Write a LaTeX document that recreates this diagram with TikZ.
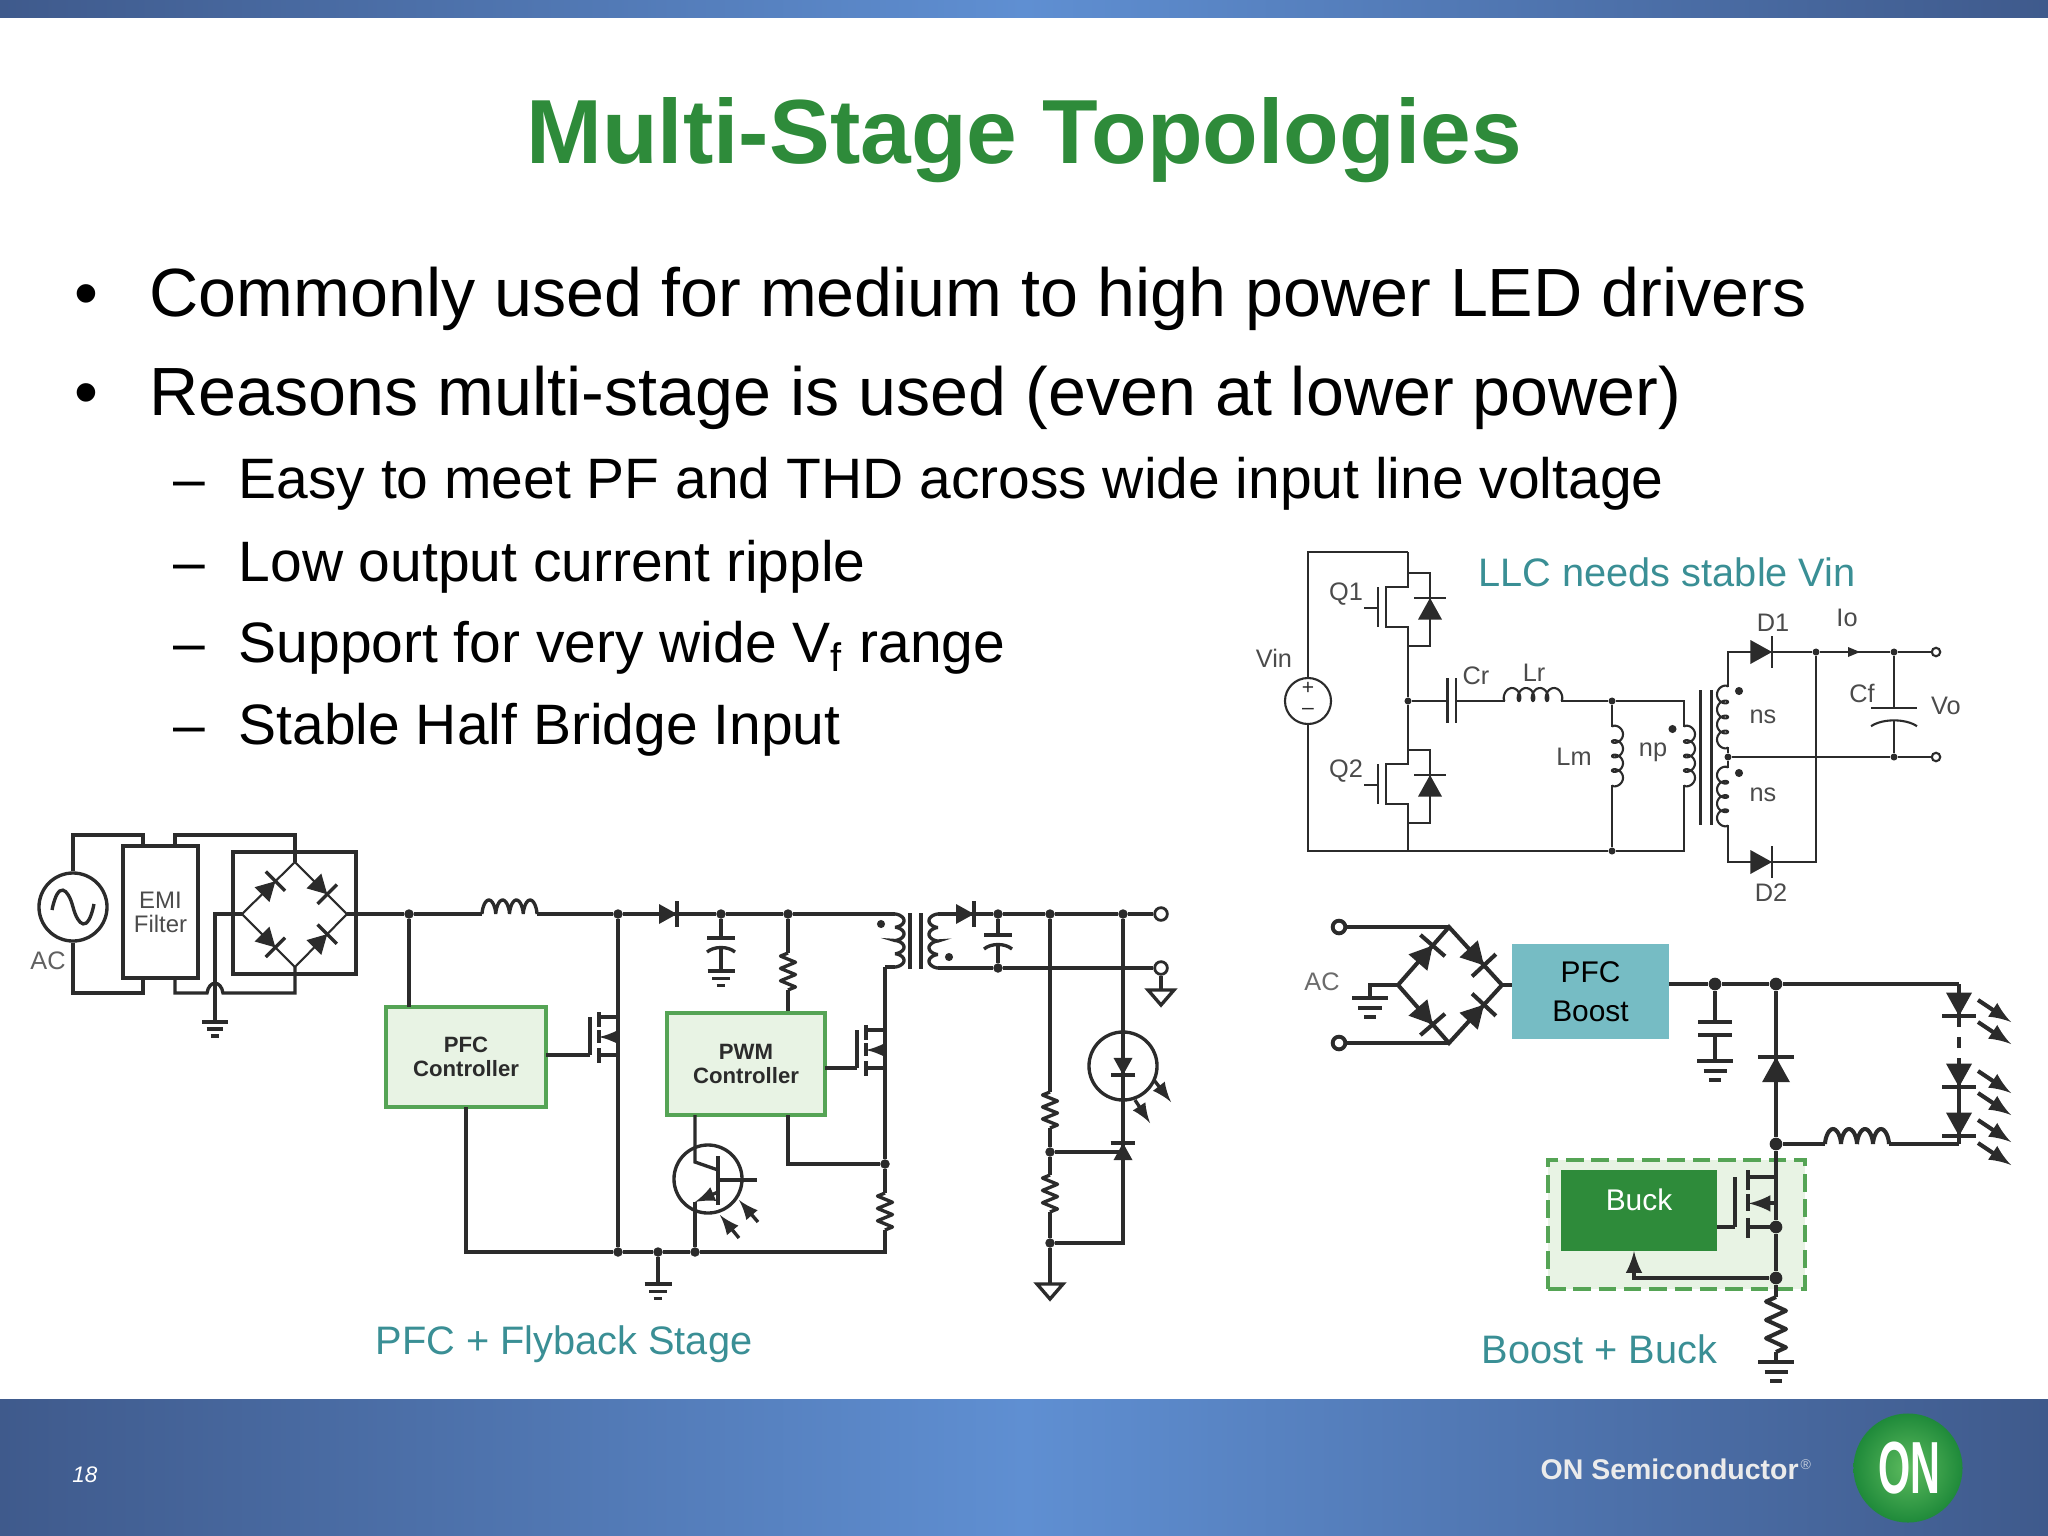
\documentclass[tikz,border=0pt]{standalone}
\usepackage{fontspec}
\setmainfont{Liberation Sans}
\usetikzlibrary{arrows}
\usetikzlibrary{calc}
\usetikzlibrary{shapes}
\definecolor{wireColor}{HTML}{2B2B2B}
\definecolor{titleColor}{HTML}{2E8B3A}
\definecolor{captionColor}{HTML}{3A8F95}
\definecolor{bandDark}{HTML}{3F5A8C}
\definecolor{bandLight}{HTML}{5F8FD2}
\definecolor{boxFill}{HTML}{E8F3E4}
\definecolor{boxEdge}{HTML}{55A455}
\definecolor{boostFill}{HTML}{76BCC4}
\definecolor{logoInner}{HTML}{5DBB5E}
\definecolor{logoOuter}{HTML}{1F8A3A}
\tikzset{
	pics/diode/.style={code={
		\fill[wireColor] (-1.8,-1) -- (-1.8,1) -- (0,0) -- cycle;
		\draw[wireStyle] (0,-1.3) -- (0,1.3);
	}},
	pics/coil/.style 2 args={code={
		\draw[wireStyle] plot[domain=0:#1, samples=90, smooth, variable=\t] ({\t-#2*sin(360*\t)},{-(1-cos(360*\t))/2});
	}},
	pics/resistor/.style={code={
		\draw[wireStyle, line join=round] (0,0) -- (.083,1) -- (.25,-1) -- (.417,1) -- (.583,-1) -- (.75,1) -- (.917,-1) -- (1,0);
	}},
	pics/earth/.style={code={
		\draw[wireStyle] (-.5,0) -- (.5,0);
		\draw[wireStyle] (-.32,.27) -- (.32,.27);
		\draw[wireStyle] (-.16,.54) -- (.16,.54);
	}},
	pics/signalgnd/.style={code={
		\draw[wireStyle] (-13,0) -- (13,0) -- (0,15) -- cycle;
	}},
	pics/curvedcap/.style={code={
		\draw[wireStyle] (-14,0) -- (14,0);
		\draw[wireStyle] (-14,14) .. controls (-7,8) and (7,8) .. (14,14);
	}},
	pics/mosfet/.style={code={
		\draw[wireStyle] (-28,0) -- (-28,38);
		\draw[wireStyle] (-19,-5) -- (-19,10);
		\draw[wireStyle] (-19,13) -- (-19,26);
		\draw[wireStyle] (-19,31) -- (-19,46);
		\draw[wireStyle] (-19,0) -- (0,0);
		\draw[wireStyle, -latex] (0,20) -- (-19,20);
		\draw[wireStyle] (-19,38) -- (0,38);
	}}
}
\begin{document}
\begin{tikzpicture}[x=0.01cm, y=-0.01cm, >=latex]
	\tikzstyle{wireStyle}=[draw=wireColor, line width=0.95pt]
	\tikzstyle{thinStyle}=[draw=wireColor, line width=0.6pt]
	\tikzstyle{dotStyle}=[shape=circle, minimum size=3.6pt, inner sep=0pt, fill=wireColor]
	\tikzstyle{smallDotStyle}=[shape=circle, minimum size=2.7pt, inner sep=0pt, fill=wireColor]
	\tikzstyle{tinyDotStyle}=[shape=circle, minimum size=2pt, inner sep=0pt, fill=wireColor]
	\tikzstyle{termStyle}=[shape=circle, minimum size=3.6pt, inner sep=0pt, draw=wireColor, line width=0.8pt, fill=white]
	\tikzstyle{titleStyle}=[anchor=base, text=titleColor, font=\fontsize{25.9pt}{30pt}\selectfont\bfseries]
	\tikzstyle{bulletStyle}=[anchor=base west, inner sep=0pt, text=black, font=\fontsize{19.4pt}{23pt}\selectfont]
	\tikzstyle{subStyle}=[anchor=base west, inner sep=0pt, text=black, font=\fontsize{16.2pt}{19pt}\selectfont]
	\tikzstyle{captionStyle}=[anchor=base west, inner sep=0pt, text=captionColor, font=\fontsize{11.3pt}{13pt}\selectfont]
	\tikzstyle{labelStyle}=[inner sep=0pt, text=wireColor!85!white, font=\fontsize{7.2pt}{8pt}\selectfont]
	\tikzstyle{ctrlStyle}=[draw=boxEdge, line width=0.9pt, fill=boxFill, inner sep=0pt, align=center, text=wireColor, font=\fontsize{6.3pt}{6.8pt}\selectfont\bfseries]
	\useasboundingbox (0,0) rectangle (2048,1536);
	\fill[white] (0,0) rectangle (2048,1536);
	\shade[left color=bandDark, right color=bandDark, middle color=bandLight] (0,0) rectangle (2048,17);
	\shade[left color=bandDark, right color=bandDark, middle color=bandLight] (0,1399) rectangle (2048,1536);

	\node[titleStyle] (title) at (1024,163) {Multi-Stage Topologies};
	\node[bulletStyle] (m1) at (74,316) {•};
	\node[bulletStyle] (t1) at (149,316) {Commonly used for medium to high power LED drivers};
	\node[bulletStyle] (m2) at (74,415) {•};
	\node[bulletStyle] (t2) at (149,415) {Reasons multi-stage is used (even at lower power)};
	\node[subStyle] (m3) at (173,498) {–};
	\node[subStyle] (t3) at (238,498) {Easy to meet PF and THD across wide input line voltage};
	\node[subStyle] (m4) at (173,581) {–};
	\node[subStyle] (t4) at (238,581) {Low output current ripple};
	\node[subStyle] (m5) at (173,662) {–};
	\node[subStyle] (t5) at (238,662) {Support for very wide V\textsubscript{f} range};
	\node[subStyle] (m6) at (173,744) {–};
	\node[subStyle] (t6) at (238,744) {Stable Half Bridge Input};
	\node[captionStyle] (capA) at (375,1354) {PFC + Flyback Stage};
	\node[captionStyle] (capB) at (1478,586) {LLC needs stable Vin};
	\node[captionStyle] (capC) at (1481,1363) {Boost + Buck};

	\node[anchor=base, text=white, font=\fontsize{6.4pt}{8pt}\selectfont\itshape] (page) at (85,1482) {18};
	\node[anchor=base west, inner sep=0pt, text=white!92!black, font=\fontsize{8.1pt}{9pt}\selectfont\bfseries] (logoText) at (1540,1479) {ON Semiconductor};
	\node[anchor=base west, inner sep=0pt, text=white!70!bandDark, font=\fontsize{4pt}{5pt}\selectfont] (logoMark) at (1800,1469) {\textregistered};
	\node[shape=circle, minimum size=109*0.2845pt, inner sep=0pt, inner color=logoInner, outer color=logoOuter] (logoBall) at (1908,1468) {};
	\node[inner sep=0pt, text=white, font=\fontsize{21pt}{22pt}\selectfont\bfseries] (logoOn) at (1909,1468) {\scalebox{0.56}[1]{ON}};

	% PFC + flyback
	\node[shape=circle, minimum size=68*0.2845pt, inner sep=0pt, draw=wireColor, line width=0.95pt] (acA) at (73,907) {};
	\draw[wireColor, line width=0.95pt] (52,910) .. controls (58,880) and (68,888) .. (73,907) .. controls (78,926) and (88,934) .. (94,904);
	\node[labelStyle, text=wireColor!75!white] (acLabelA) at (48,961) {AC};
	\node[draw=wireColor, line width=0.95pt, minimum width=75*0.2845pt, minimum height=132*0.2845pt, inner sep=0pt, align=center, text=wireColor!85!white, font=\fontsize{6.8pt}{6.8pt}\selectfont] (emi) at (160.5,912) {EMI\\Filter};
	\node[draw=wireColor, line width=0.95pt, minimum width=123*0.2845pt, minimum height=122*0.2845pt, inner sep=0pt] (bridgeBox) at (294.5,913) {};
	\coordinate (a0) at (295,862);
	\coordinate (a1) at (347,914);
	\coordinate (a2) at (295,967);
	\coordinate (a3) at (242,914);
	\draw[thinStyle] (a3) -- (a0) -- (a1) -- (a2) -- cycle;
	\pic[rotate=45, scale=10.5] at ($(a3)!0.63!(a0)$) {diode};
	\pic[rotate=-45, scale=10.5] at ($(a0)!0.62!(a1)$) {diode};
	\pic[rotate=-45, scale=10.5] at ($(a3)!0.63!(a2)$) {diode};
	\pic[rotate=45, scale=10.5] at ($(a2)!0.62!(a1)$) {diode};
	\coordinate (a4) at (73,835);
	\coordinate (a5) at (143,835);
	\coordinate (a6) at (143,846);
	\coordinate (a7) at (175,846);
	\coordinate (a8) at (175,835);
	\coordinate (a9) at (295,835);
	\coordinate (a10) at (73,993);
	\coordinate (a11) at (143,993);
	\coordinate (a12) at (143,978);
	\coordinate (a13) at (175,978);
	\coordinate (a14) at (175,993);
	\coordinate (a15) at (207,993);
	\coordinate (a16) at (223,993);
	\coordinate (a17) at (295,993);
	\coordinate (a18) at (215,914);
	\coordinate (a19) at (215,1022);
	\draw[wireStyle] (acA) -- (a4) -- (a5) -- (a6);
	\draw[wireStyle] (a7) -- (a8) -- (a9) -- (a0);
	\draw[wireStyle] (acA) -- (a10) -- (a11) -- (a12);
	\draw[wireStyle] (a13) -- (a14) -- (a15) .. controls +(2,-13) and +(-2,-13) .. (a16) -- (a17) -- (a2);
	\draw[wireStyle] (a3) -- (a18) -- (a19);
	\pic[scale=26] at (a19) {earth};

	\node[smallDotStyle] (a20) at (409,914) {};
	\coordinate (a21) at (482,914);
	\coordinate (a22) at (537,914);
	\node[smallDotStyle] (a23) at (618,914) {};
	\node[smallDotStyle] (a24) at (618,1252) {};
	\node[ctrlStyle, minimum width=160*0.2845pt, minimum height=100*0.2845pt] (pfc) at (466,1057) {PFC\\Controller};
	\coordinate (a25) at (409,1007);
	\coordinate (a26) at (466,1252);
	\coordinate (a27) at (590,1055);
	\coordinate (a28) at (546,1055);
	\coordinate (a29) at (466,1107);
	\draw[wireStyle] (a1) -- (a20) -- (a21);
	\draw[wireStyle] (a22) -- (a23);
	\pic[xscale=13.75, yscale=14] at (a21) {coil={4}{0.16}};
	\draw[wireStyle] (a20) -- (a25);
	\draw[wireStyle] (a29) -- (a26) -- (a24);
	\draw[wireStyle] (a23) -- (a24);
	\draw[wireStyle] (a28) -- (a27);
	\pic at (618,1017) {mosfet};

	\coordinate (a30) at (677,914);
	\node[smallDotStyle] (a31) at (721,914) {};
	\node[smallDotStyle] (a32) at (788,914) {};
	\coordinate (a33) at (895,914);
	\draw[wireStyle] (a23) -- (a30) -- (a31) -- (a32) -- (a33);
	\pic[scale=10] at (a30) {diode};
	\coordinate (a34) at (721,938);
	\coordinate (a34b) at (721,947);
	\coordinate (a35) at (721,971);
	\draw[wireStyle] (a31) -- (a34);
	\draw[wireStyle] (a34b) -- (a35);
	\pic at (a34) {curvedcap};
	\pic[scale=27] at (a35) {earth};
	\coordinate (a36) at (788,953);
	\coordinate (a37) at (788,990);
	\coordinate (a38) at (788,1013);
	\draw[wireStyle] (a32) -- (a36);
	\draw[wireStyle] (a37) -- (a38);
	\pic[rotate=-90, xscale=37, yscale=7.5] at (a36) {resistor};
	\node[ctrlStyle, minimum width=158*0.2845pt, minimum height=102*0.2845pt] (pwm) at (746,1064) {PWM\\Controller};

	\coordinate (a39) at (885,967);
	\coordinate (a40) at (895,967);
	\draw[wireStyle] (a39) -- (a40);
	\pic[rotate=-90, xscale=13.25, yscale=9] at (a33) {coil={4}{0.16}};
	\coordinate (a41) at (910,913);
	\coordinate (a42) at (910,969);
	\coordinate (a43) at (921,913);
	\coordinate (a44) at (921,969);
	\draw[wireStyle] (a41) -- (a42);
	\draw[wireStyle] (a43) -- (a44);
	\pic[rotate=-90, xscale=13.5, yscale=-9] at (938,914) {coil={4}{0.16}};
	\node[shape=circle, minimum size=2.3pt, inner sep=0pt, fill=wireColor] (a45) at (881,924) {};
	\node[shape=circle, minimum size=2.3pt, inner sep=0pt, fill=wireColor] (a46) at (949,957) {};
	\coordinate (a47) at (938,914);
	\coordinate (a48) at (974,914);
	\node[smallDotStyle] (a49) at (998,914) {};
	\node[smallDotStyle] (a50) at (1050,914) {};
	\node[smallDotStyle] (a51) at (1123,914) {};
	\node[termStyle] (a52) at (1161,914) {};
	\draw[wireStyle] (a47) -- (a48) -- (a49) -- (a50) -- (a51) -- (a52);
	\pic[scale=10] at (a48) {diode};
	\coordinate (a53) at (938,968);
	\node[smallDotStyle] (a54) at (998,968) {};
	\node[termStyle] (a55) at (1161,968) {};
	\draw[wireStyle] (a53) -- (a54) -- (a55);
	\coordinate (a56) at (998,935);
	\coordinate (a56b) at (998,945);
	\draw[wireStyle] (a49) -- (a56);
	\draw[wireStyle] (a56b) -- (a54);
	\pic at (a56) {curvedcap};
	\coordinate (a57) at (1161,990);
	\draw[wireStyle] (a55) -- (a57);
	\pic at (a57) {signalgnd};

	\coordinate (a58) at (885,1030);
	\coordinate (a59) at (885,1193);
	\coordinate (a60) at (885,1230);
	\node[smallDotStyle] (a61) at (885,1164) {};
	\coordinate (a62) at (885,1252);
	\node[smallDotStyle] (a63) at (695,1252) {};
	\node[smallDotStyle] (a64) at (658,1252) {};
	\coordinate (a65) at (658,1284);
	\draw[wireStyle] (a39) -- (a58);
	\draw[wireStyle] (a58) -- (a61) -- (a59);
	\draw[wireStyle] (a60) -- (a62) -- (a63) -- (a64) -- (a24);
	\draw[wireStyle] (a64) -- (a65);
	\pic[scale=27] at (a65) {earth};
	\pic[rotate=-90, xscale=37, yscale=7.5] at (a59) {resistor};
	\pic at (a58) {mosfet};
	\coordinate (a66) at (825,1068);
	\coordinate (a67) at (857,1068);
	\draw[wireStyle] (a66) -- (a67);
	\coordinate (a68) at (788,1115);
	\coordinate (a69) at (788,1164);
	\draw[wireStyle] (a68) -- (a69) -- (a61);

	\node[shape=circle, minimum size=68*0.2845pt, inner sep=0pt, draw=wireColor, line width=0.95pt] (photo) at (708,1179) {};
	\coordinate (a70) at (695,1115);
	\coordinate (a71) at (695,1162);
	\coordinate (a72) at (718,1170);
	\coordinate (a73) at (718,1156);
	\coordinate (a74) at (718,1205);
	\coordinate (a75) at (718,1180);
	\coordinate (a76) at (757,1180);
	\coordinate (a77) at (718,1192);
	\coordinate (a78) at (695,1202);
	\draw[wireStyle] (a70) -- (a71) -- (a72);
	\draw[wireStyle] (a73) -- (a74);
	\draw[wireStyle] (a75) -- (a76);
	\draw[wireStyle, ->] (a77) -- (a78);
	\draw[wireStyle] (a78) -- (a63);
	\coordinate (a79) at (758,1222);
	\coordinate (a80) at (739,1200);
	\coordinate (a81) at (739,1238);
	\coordinate (a82) at (720,1215);
	\draw[wireStyle, ->] (a79) -- (a80);
	\draw[wireStyle, ->] (a81) -- (a82);

	\coordinate (a83) at (1050,1092);
	\coordinate (a84) at (1050,1128);
	\node[smallDotStyle] (a85) at (1050,1152) {};
	\coordinate (a86) at (1050,1175);
	\coordinate (a87) at (1050,1212);
	\node[smallDotStyle] (a88) at (1050,1243) {};
	\coordinate (a89) at (1050,1284);
	\draw[wireStyle] (a50) -- (a83);
	\draw[wireStyle] (a84) -- (a85) -- (a86);
	\draw[wireStyle] (a87) -- (a88) -- (a89);
	\pic[rotate=-90, xscale=36, yscale=7.5] at (a83) {resistor};
	\pic[rotate=-90, xscale=37, yscale=7.5] at (a86) {resistor};
	\pic at (a89) {signalgnd};
	\node[shape=circle, minimum size=68*0.2845pt, inner sep=0pt, draw=wireColor, line width=0.95pt] (led) at (1123,1066) {};
	\coordinate (a90) at (1123,1075);
	\coordinate (a91) at (1123,1143);
	\coordinate (a92) at (1123,1243);
	\coordinate (a93) at (1123,1152);
	\draw[wireStyle] (a51) -- (a90) -- (a91) -- (a92) -- (a88);
	\draw[wireStyle] (a85) -- (a93);
	\pic[rotate=-90, scale=9.5] at (a90) {diode};
	\pic[rotate=90, scale=9.5] at (a91) {diode};
	\coordinate (a94) at (1154,1080);
	\coordinate (a95) at (1171,1102);
	\coordinate (a96) at (1135,1100);
	\coordinate (a97) at (1150,1123);
	\draw[wireStyle, ->] (a94) -- (a95);
	\draw[wireStyle, ->] (a96) -- (a97);

	% LLC
	\begin{scope}[wireStyle/.style={draw=wireColor, line width=0.6pt}]
	\coordinate (b0) at (1308,552);
	\coordinate (b1) at (1408,552);
	\coordinate (b2) at (1308,851);
	\node[shape=circle, minimum size=46*0.2845pt, inner sep=0pt, draw=wireColor, line width=0.6pt] (vin) at (1308,701) {};
	\node[inner sep=0pt, font=\fontsize{6pt}{7pt}\selectfont, text=wireColor] (vinPlus) at (1308,688) {+};
	\node[inner sep=0pt, font=\fontsize{6pt}{7pt}\selectfont, text=wireColor] (vinMinus) at (1308,711) {–};
	\node[tinyDotStyle] (b3) at (1408,701) {};
	\coordinate (b4) at (1408,851);
	\draw[thinStyle] (vin) -- (b0) -- (b1);
	\draw[thinStyle] (vin) -- (b2) -- (b4);
	\coordinate (b5) at (1408,573);
	\coordinate (b6) at (1408,587);
	\coordinate (b7) at (1386,587);
	\coordinate (b8) at (1386,627);
	\coordinate (b9) at (1408,627);
	\coordinate (b10) at (1408,646);
	\coordinate (b11) at (1430,573);
	\coordinate (b12) at (1430,646);
	\coordinate (b13) at (1378,587);
	\coordinate (b14) at (1378,627);
	\coordinate (b15) at (1364,608);
	\coordinate (b16) at (1378,608);
	\coordinate (b17) at (1430,598);
	\draw[thinStyle] (b1) -- (b5) -- (b6) -- (b7) -- (b8) -- (b9) -- (b10) -- (b3);
	\draw[thinStyle] (b5) -- (b11) -- (b12) -- (b10);
	\draw[thinStyle] (b13) -- (b14);
	\draw[thinStyle] (b15) -- (b16);
	\pic[rotate=90, scale=12] at (b17) {diode};
	\coordinate (b18) at (1408,750);
	\coordinate (b19) at (1408,764);
	\coordinate (b20) at (1386,764);
	\coordinate (b21) at (1386,804);
	\coordinate (b22) at (1408,804);
	\coordinate (b23) at (1408,823);
	\coordinate (b24) at (1430,750);
	\coordinate (b25) at (1430,823);
	\coordinate (b26) at (1378,764);
	\coordinate (b27) at (1378,804);
	\coordinate (b28) at (1364,785);
	\coordinate (b29) at (1378,785);
	\coordinate (b30) at (1430,775);
	\draw[thinStyle] (b3) -- (b18) -- (b19) -- (b20) -- (b21) -- (b22) -- (b23) -- (b4);
	\draw[thinStyle] (b18) -- (b24) -- (b25) -- (b23);
	\draw[thinStyle] (b26) -- (b27);
	\draw[thinStyle] (b28) -- (b29);
	\pic[rotate=90, scale=12] at (b30) {diode};
	\coordinate (b31) at (1447.5,701);
	\coordinate (b32) at (1456,701);
	\coordinate (b33) at (1447.5,678);
	\coordinate (b34) at (1447.5,723);
	\coordinate (b35) at (1456,678);
	\coordinate (b36) at (1456,723);
	\coordinate (b37) at (1505,701);
	\coordinate (b38) at (1561,701);
	\node[tinyDotStyle] (b39) at (1612,701) {};
	\coordinate (b40) at (1684,701);
	\coordinate (b41) at (1684,727);
	\coordinate (b42) at (1684,785);
	\coordinate (b43) at (1684,851);
	\node[tinyDotStyle] (b44) at (1612,851) {};
	\coordinate (b45) at (1612,727);
	\coordinate (b46) at (1612,785);
	\draw[thinStyle] (b3) -- (b31);
	\draw[thinStyle] (b33) -- (b34);
	\draw[thinStyle] (b35) -- (b36);
	\draw[thinStyle] (b32) -- (b37);
	\draw[thinStyle] (b38) -- (b39) -- (b40) -- (b41);
	\draw[thinStyle] (b42) -- (b43) -- (b44) -- (b4);
	\draw[thinStyle] (b39) -- (b45);
	\draw[thinStyle] (b46) -- (b44);
	\pic[xscale=14, yscale=13] at (b37) {coil={4}{0.3}};
	\pic[rotate=-90, xscale=14.5, yscale=11] at (b45) {coil={4}{0.3}};
	\pic[rotate=-90, xscale=14.5, yscale=11] at (b41) {coil={4}{0.3}};
	\coordinate (b47) at (1700.5,690);
	\coordinate (b48) at (1700.5,825);
	\coordinate (b49) at (1711.5,690);
	\coordinate (b50) at (1711.5,825);
	\draw[thinStyle] (b47) -- (b48);
	\draw[thinStyle] (b49) -- (b50);
	\coordinate (b51) at (1728,652);
	\coordinate (b52) at (1728,687);
	\node[tinyDotStyle] (b53) at (1728,757) {};
	\coordinate (b54) at (1728,747);
	\coordinate (b55) at (1728,768);
	\coordinate (b56) at (1728,825);
	\coordinate (b57) at (1728,862);
	\pic[rotate=-90, xscale=15, yscale=-11] at (b52) {coil={4}{0.3}};
	\pic[rotate=-90, xscale=14.25, yscale=-11] at (b55) {coil={4}{0.3}};
	\coordinate (b58) at (1772,652);
	\coordinate (b59) at (1772,862);
	\node[tinyDotStyle] (b60) at (1816,652) {};
	\coordinate (b61) at (1816,862);
	\node[tinyDotStyle] (b62) at (1894,652) {};
	\node[tinyDotStyle] (b63) at (1894,757) {};
	\node[termStyle, minimum size=2.4pt, line width=0.6pt] (b64) at (1936,652) {};
	\node[termStyle, minimum size=2.4pt, line width=0.6pt] (b65) at (1936,757) {};
	\coordinate (b67) at (1894,708);
	\coordinate (b67b) at (1894,720);
	\draw[thinStyle] (b52) -- (b51) -- (b58) -- (b60) -- (b62) -- (b64);
	\draw[thinStyle] (b54) -- (b53) -- (b55);
	\draw[thinStyle] (b56) -- (b57) -- (b59) -- (b61) -- (b60);
	\draw[thinStyle] (b53) -- (b63) -- (b65);
	\pic[scale=12] at (b58) {diode};
	\pic[scale=12] at (b59) {diode};
	\fill[wireColor] (1848,647) -- (1848,657) -- (1860,652) -- cycle;
	\draw[thinStyle] (b62) -- (b67);
	\draw[thinStyle] (b67b) -- (b63);
	\pic[xscale=1.64, yscale=1.3] at (b67) {curvedcap};
	\end{scope}
	\node[shape=circle, minimum size=2.3pt, inner sep=0pt, fill=wireColor] (b68) at (1672.5,729) {};
	\node[shape=circle, minimum size=2.3pt, inner sep=0pt, fill=wireColor] (b69) at (1739,691) {};
	\node[shape=circle, minimum size=2.3pt, inner sep=0pt, fill=wireColor] (b70) at (1739,773) {};
	\node[labelStyle] (lQ1) at (1346,594) {Q1};
	\node[labelStyle] (lQ2) at (1346,771) {Q2};
	\node[labelStyle] (lVin) at (1274,658) {Vin};
	\node[labelStyle] (lCr) at (1476,676) {Cr};
	\node[labelStyle] (lLr) at (1534,673) {Lr};
	\node[labelStyle] (lLm) at (1574,757) {Lm};
	\node[labelStyle] (lNp) at (1653,752) {np};
	\node[labelStyle] (lNs1) at (1763,717) {ns};
	\node[labelStyle] (lNs2) at (1763,795) {ns};
	\node[labelStyle] (lD1) at (1773,623) {D1};
	\node[labelStyle] (lD2) at (1771,893) {D2};
	\node[labelStyle] (lIo) at (1847,618) {Io};
	\node[labelStyle] (lCf) at (1862,693) {Cf};
	\node[labelStyle] (lVo) at (1946,706) {Vo};

	% Boost + buck
	\begin{scope}[wireStyle/.style={draw=wireColor, line width=1.15pt}]
	\node[draw=boxEdge, dash pattern=on 5pt off 2.2pt, line width=1pt, fill=boxFill, minimum width=257*0.2845pt, minimum height=129*0.2845pt, inner sep=0pt] (buckArea) at (1676.5,1224.5) {};
	\node[fill=titleColor, minimum width=156*0.2845pt, minimum height=81*0.2845pt, inner sep=0pt] (buckBox) at (1639,1210.5) {};
	\node[inner sep=0pt, text=white, font=\fontsize{8.5pt}{10pt}\selectfont] (buckText) at (1639,1200) {Buck};
	\node[fill=boostFill, minimum width=157*0.2845pt, minimum height=95*0.2845pt, inner sep=0pt, align=center, text=black, font=\fontsize{8.5pt}{11.1pt}\selectfont] (boost) at (1590.5,991.5) {PFC\\Boost};
	\node[termStyle, line width=1.1pt] (c0) at (1339,927) {};
	\node[termStyle, line width=1.1pt] (c1) at (1339,1043) {};
	\coordinate (c2) at (1449,927);
	\coordinate (c3) at (1502,985);
	\coordinate (c4) at (1449,1043);
	\coordinate (c5) at (1398,985);
	\coordinate (c6) at (1370,985);
	\coordinate (c7) at (1370,998);
	\coordinate (c8) at (1512,985);
	\draw[wireStyle] (c0) -- (c2);
	\draw[wireStyle] (c1) -- (c4);
	\draw[wireStyle] (c5) -- (c2) -- (c3) -- (c4) -- cycle;
	\draw[wireStyle] (c3) -- (c8);
	\draw[wireStyle] (c5) -- (c6) -- (c7);
	\pic[scale=36] at (c7) {earth};
	\pic[rotate=49, scale=12.5] at ($(c5)!0.68!(c2)$) {diode};
	\pic[rotate=-47, scale=12.5] at ($(c2)!0.66!(c3)$) {diode};
	\pic[rotate=-49, scale=12.5] at ($(c5)!0.68!(c4)$) {diode};
	\pic[rotate=47, scale=12.5] at ($(c4)!0.66!(c3)$) {diode};
	\node[labelStyle, text=wireColor!70!white] (acLabelB) at (1322,982) {AC};
	\coordinate (c9) at (1669,984);
	\node[dotStyle] (c10) at (1715,984) {};
	\node[dotStyle] (c11) at (1776,984) {};
	\coordinate (c12) at (1959,984);
	\draw[wireStyle] (c9) -- (c10) -- (c11) -- (c12);
	\coordinate (c13) at (1715,1022);
	\coordinate (c14) at (1715,1035);
	\coordinate (c15) at (1715,1061);
	\coordinate (c16) at (1698,1022);
	\coordinate (c17) at (1732,1022);
	\coordinate (c18) at (1698,1035);
	\coordinate (c19) at (1732,1035);
	\draw[wireStyle] (c10) -- (c13);
	\draw[wireStyle] (c16) -- (c17);
	\draw[wireStyle] (c18) -- (c19);
	\draw[wireStyle] (c14) -- (c15);
	\pic[scale=36] at (c15) {earth};
	\coordinate (c20) at (1776,1057);
	\node[dotStyle] (c21) at (1776,1144) {};
	\draw[wireStyle] (c11) -- (c20) -- (c21);
	\pic[rotate=90, scale=14] at (c20) {diode};
	\coordinate (c22) at (1825,1144);
	\coordinate (c23) at (1889,1144);
	\coordinate (c24) at (1959,1144);
	\draw[wireStyle] (c21) -- (c22);
	\draw[wireStyle] (c23) -- (c24);
	\pic[xscale=16, yscale=15] at (c22) {coil={4}{0.16}};
	\coordinate (c25) at (1959,1016);
	\coordinate (c26) at (1959,1063);
	\coordinate (c27) at (1959,1087);
	\coordinate (c28) at (1959,1136);
	\draw[wireStyle] (c12) -- (c25);
	\draw[wireStyle, dashed] (c25) -- (c26);
	\draw[wireStyle] (c26) -- (c27) -- (c28) -- (c24);
	\pic[rotate=-90, scale=13] at (c25) {diode};
	\pic[rotate=-90, scale=13] at (c27) {diode};
	\pic[rotate=-90, scale=13] at (c28) {diode};
	\foreach \ay/\an in {1000/p0, 1022/p1, 1071/p2, 1093/p3, 1120/p4, 1143/p5}{
		\coordinate (\an a) at (1978,\ay);
		\coordinate (\an b) at (2011,\ay+22);
		\draw[wireStyle, ->] (\an a) -- (\an b);
	}
	\coordinate (c29) at (1776,1177);
	\node[dotStyle] (c32) at (1776,1227) {};
	\node[dotStyle] (c33) at (1776,1278) {};
	\coordinate (c37) at (1735,1227);
	\coordinate (c38) at (1717,1227);
	\coordinate (c39) at (1634,1278);
	\coordinate (c40) at (1634,1251);
	\coordinate (c41) at (1776,1297);
	\coordinate (c42) at (1776,1352);
	\coordinate (c43) at (1776,1362);
	\draw[wireStyle] (c21) -- (c29) -- (c32) -- (c33) -- (c41);
	\pic[xscale=1.45, yscale=1.32] at (c29) {mosfet};
	\draw[wireStyle] (c37) -- (c38);
	\draw[wireStyle, ->] (c33) -- (c39) -- (c40);
	\pic[rotate=-90, xscale=55, yscale=10] at (c41) {resistor};
	\draw[wireStyle] (c42) -- (c43);
	\pic[scale=36] at (c43) {earth};
	\end{scope}
\end{tikzpicture}
\end{document}
